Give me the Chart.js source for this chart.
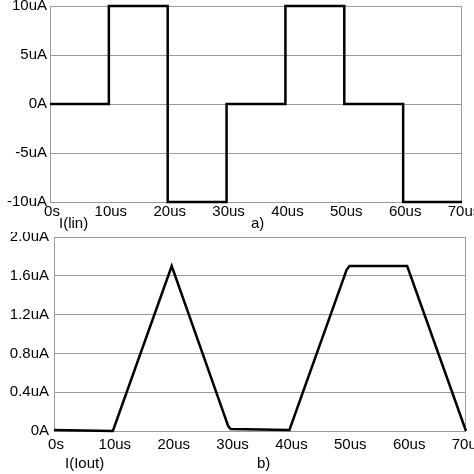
<!DOCTYPE html>
<html>
<head>
<meta charset="utf-8">
<script src="https://cdn.jsdelivr.net/npm/chart.js@4/dist/chart.umd.min.js"></script>
<style>
  html, body { margin: 0; padding: 0; background: #fff; overflow: hidden; width: 474px; height: 474px; }
  canvas { position: absolute; left: 0; }
  .lbl { position: absolute; font: 15px "Liberation Sans", Arial, sans-serif; color: #000; line-height: 15px; }
</style>
</head>
<body>
<canvas id="chartIn" width="500" height="232" style="top:0"></canvas>
<canvas id="chartOut" width="500" height="242" style="top:232px"></canvas>
<div class="lbl" style="left:59px;top:215px">I(lin)</div>
<div class="lbl" style="left:251px;top:215px">a)</div>
<div class="lbl" style="left:65px;top:455px">I(Iout)</div>
<div class="lbl" style="left:257px;top:455px">b)</div>
<script>
// time in microseconds
var inTimes = [0, 10, 20, 30, 40, 50, 60, 70];
// input current (uA), value holds from each time to the next
var inValues = [0, 10, -10, 0, 10, 0, -10, -10];

var outTimes = [0, 10, 20, 29.6, 30, 40, 49.7, 50.2, 60, 70];
var outValues = [0.01, 0, 1.70, 0.05, 0.02, 0.01, 1.66, 1.70, 1.70, 0];

var inTicks = [-10, -5, 0, 5, 10];
var outTicks = [0, 0.4, 0.8, 1.2, 1.6, 2.0];

var FONT = { family: '"Liberation Sans", Arial, sans-serif', size: 15 };
var GRID = '#9a9a9a';

function toPoints(xs, ys) {
  return xs.map(function (x, i) { return { x: x, y: ys[i] }; });
}

function timeLabel(v) {
  return v === 0 ? '0s' : v + 'us';
}

// box around the plot area, like the simulator output
var frame = {
  id: 'frame',
  beforeDatasetsDraw: function (chart) {
    var a = chart.chartArea;
    var ctx = chart.ctx;
    ctx.save();
    ctx.strokeStyle = GRID;
    ctx.lineWidth = 1;
    ctx.strokeRect(a.left + 0.5, a.top + 0.5, a.right - a.left - 1, a.bottom - a.top);
    ctx.restore();
  }
};

function makeChart(id, opts) {
  return new Chart(document.getElementById(id), {
    type: 'line',
    data: {
      datasets: [{
        data: toPoints(opts.xs, opts.ys),
        borderColor: '#000',
        borderWidth: 2.5,
        pointRadius: 0,
        stepped: opts.stepped || false,
        tension: 0,
        clip: false
      }]
    },
    options: {
      responsive: false,
      animation: false,
      layout: { padding: { left: 0, top: opts.top, right: opts.right, bottom: 0 } },
      plugins: { legend: { display: false }, tooltip: { enabled: false } },
      scales: {
        x: {
          type: 'linear',
          min: 0,
          max: 70,
          grid: { display: false, drawTicks: false },
          border: { display: false },
          ticks: {
            stepSize: 10,
            font: FONT,
            color: '#000',
            padding: opts.xPad,
            maxRotation: 0,
            autoSkip: false,
            labelOffset: 2,
            callback: timeLabel
          },
          afterFit: function (s) {
            s.height = opts.xHeight;
            s.paddingLeft = 0;
            s.paddingRight = 0;
          }
        },
        y: {
          min: opts.yTicks[0],
          max: opts.yTicks[opts.yTicks.length - 1],
          grid: { color: GRID, lineWidth: 1, drawTicks: false },
          border: { display: false },
          afterBuildTicks: function (s) {
            s.ticks = opts.yTicks.map(function (v) { return { value: v }; });
          },
          ticks: {
            font: FONT,
            color: '#000',
            padding: opts.yPad,
            callback: opts.yLabel
          },
          afterFit: function (s) {
            s.width = opts.yWidth;
            s.paddingTop = 0;
            s.paddingBottom = 0;
          }
        }
      }
    },
    plugins: [frame]
  });
}

makeChart('chartIn', {
  xs: inTimes, ys: inValues, stepped: 'before',
  yTicks: inTicks,
  yLabel: function (v) { return v === 0 ? '0A' : v + 'uA'; },
  top: 6, right: 38, xHeight: 30, yWidth: 50, xPad: 1, yPad: 3
});

makeChart('chartOut', {
  xs: outTimes, ys: outValues,
  yTicks: outTicks,
  yLabel: function (v) { return v === 0 ? '0A' : v.toFixed(1) + 'uA'; },
  top: 5, right: 34, xHeight: 43, yWidth: 54, xPad: 5, yPad: 5
});
</script>
</body>
</html>
